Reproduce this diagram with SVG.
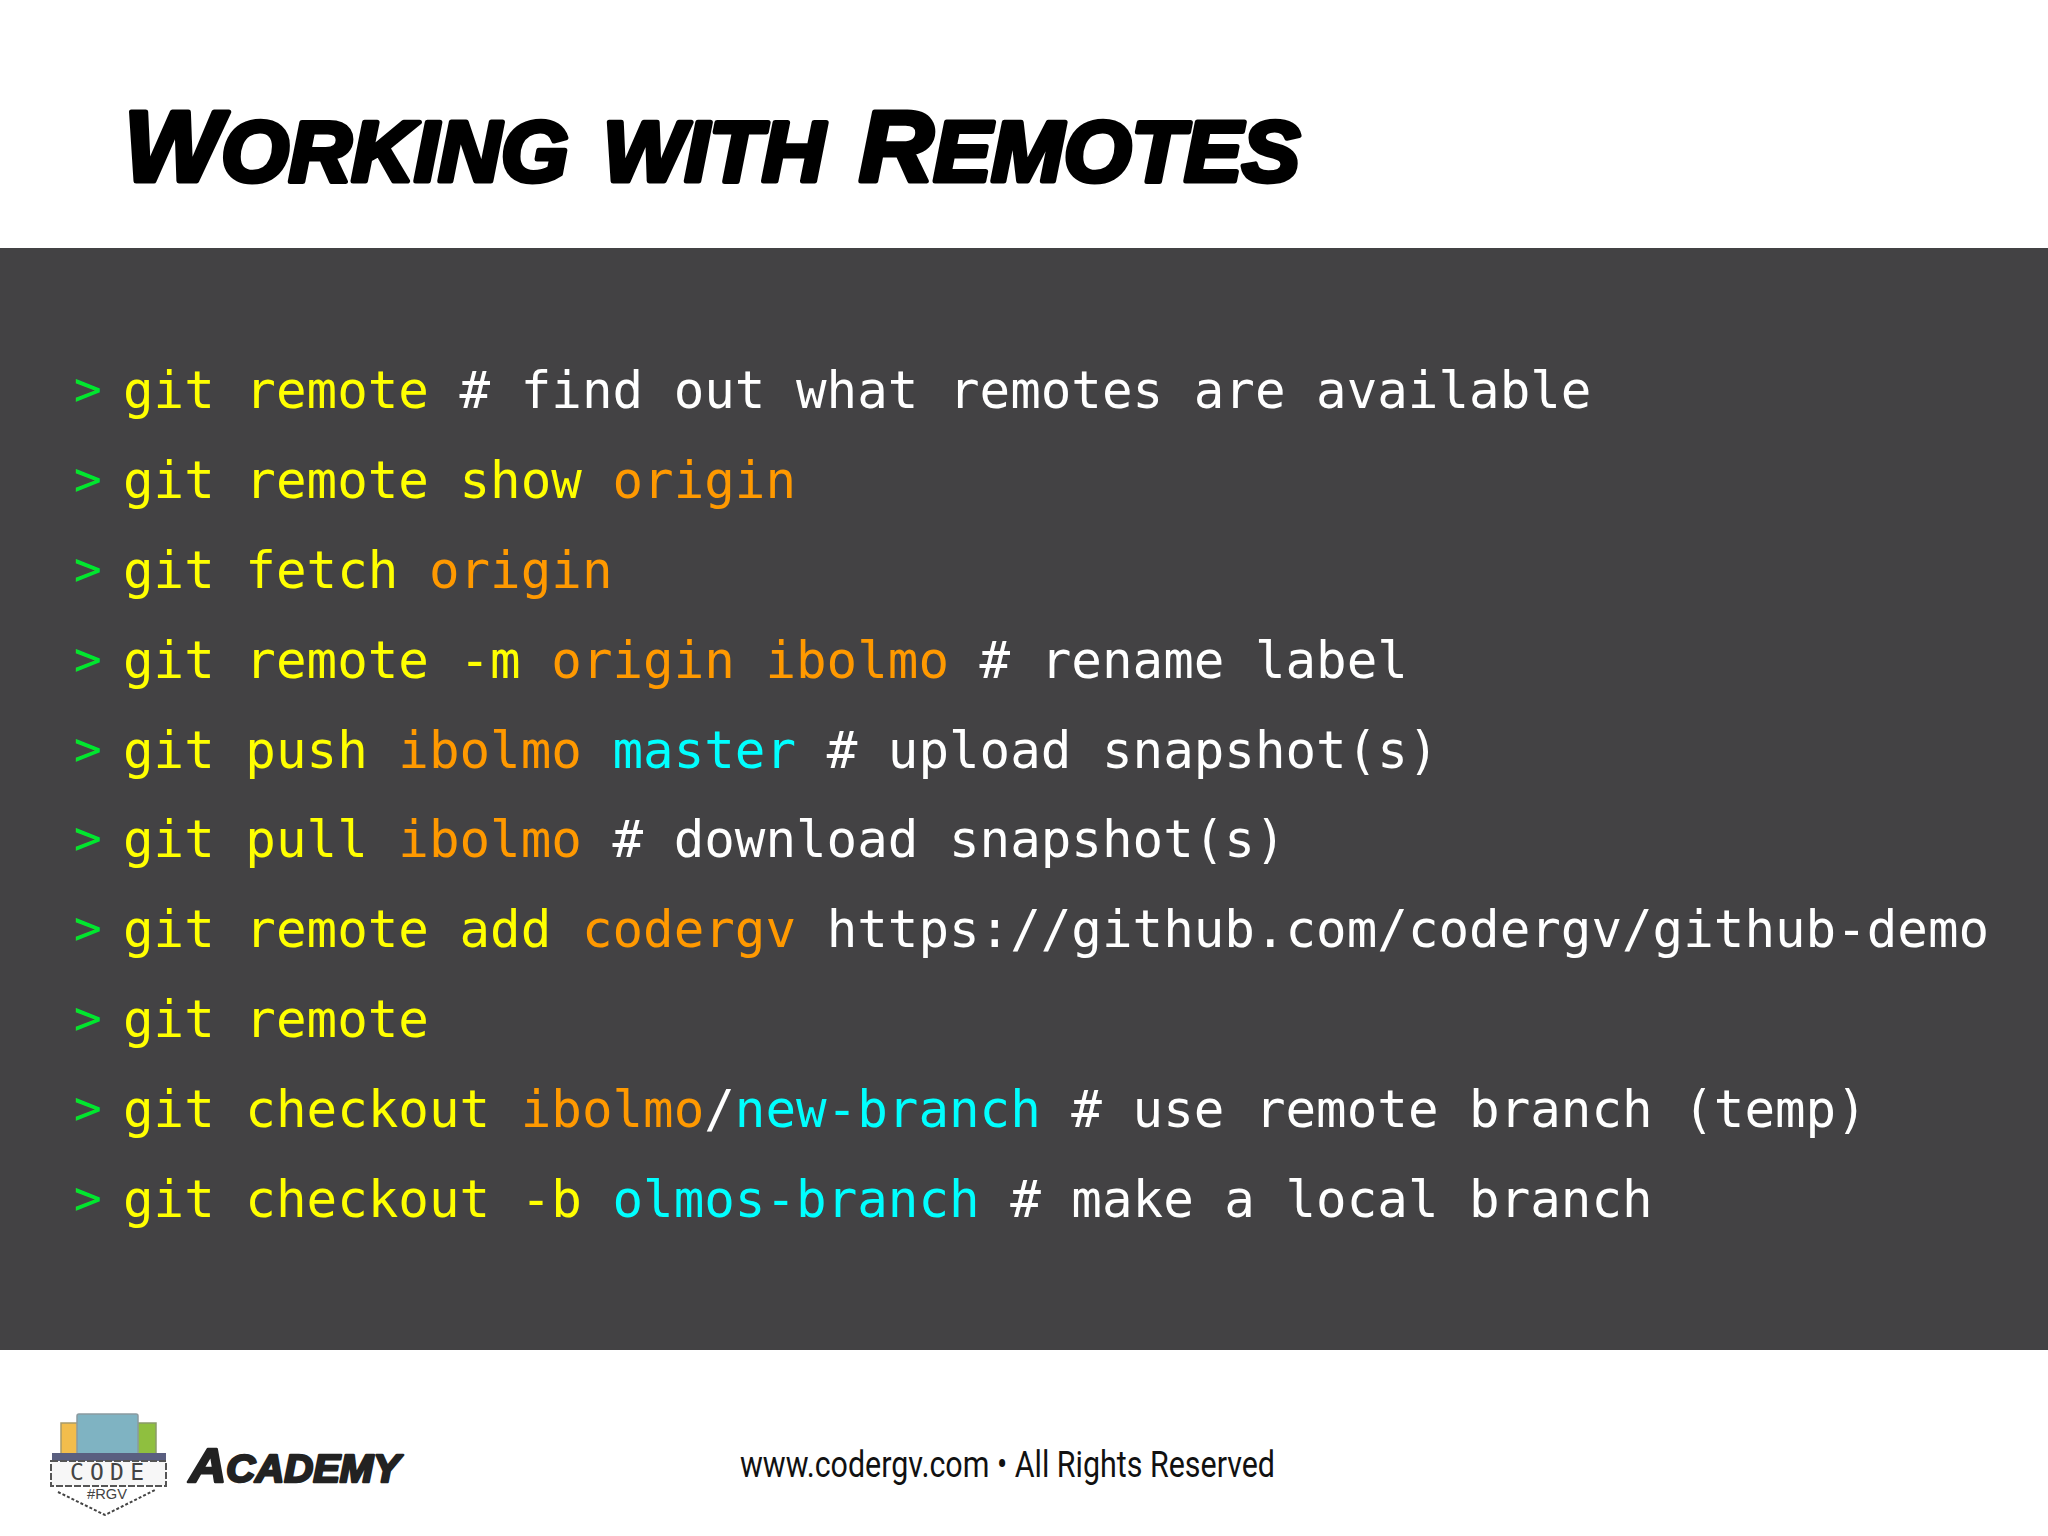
<svg xmlns="http://www.w3.org/2000/svg" width="2048" height="1536" viewBox="0 0 2048 1536">
<style>
.brush{font-family:"Liberation Sans",Arial,sans-serif;font-weight:700;font-style:italic;font-variant:small-caps;stroke-linejoin:round}
.tc{font-size:101px}.ts{font-size:121px}
.ac{font-size:49px}.as{font-size:54px}
.c{font-family:"DejaVu Sans Mono","Liberation Mono",monospace;font-size:50.82px;fill:#fff;white-space:pre}
.c.p{fill:#00e62e;font-size:46px}.y{fill:#ffff00}.o{fill:#ff9900}.b{fill:#00ffff}
</style>
<rect width="2048" height="1536" fill="#fff"/>
<text id="title" class="brush" x="124" y="181" fill="#000" stroke="#000" stroke-width="5" textLength="1176" lengthAdjust="spacingAndGlyphs"><tspan class="tc">W</tspan><tspan class="ts">orking with </tspan><tspan class="tc">R</tspan><tspan class="ts">emotes</tspan></text>
<rect id="panel" x="0" y="248" width="2048" height="1102" fill="#434244"/>
<g id="code">
<text class="c p" x="74" y="405">&gt;</text><text class="c" x="123" y="408" xml:space="preserve"><tspan class="y">git remote</tspan> # find out what remotes are available</text>
<text class="c p" x="74" y="495">&gt;</text><text class="c" x="123" y="498" xml:space="preserve"><tspan class="y">git remote show</tspan> <tspan class="o">origin</tspan></text>
<text class="c p" x="74" y="585">&gt;</text><text class="c" x="123" y="588" xml:space="preserve"><tspan class="y">git fetch</tspan> <tspan class="o">origin</tspan></text>
<text class="c p" x="74" y="675">&gt;</text><text class="c" x="123" y="678" xml:space="preserve"><tspan class="y">git remote -m</tspan> <tspan class="o">origin ibolmo</tspan> # rename label</text>
<text class="c p" x="74" y="765">&gt;</text><text class="c" x="123" y="768" xml:space="preserve"><tspan class="y">git push</tspan> <tspan class="o">ibolmo</tspan> <tspan class="b">master</tspan> # upload snapshot(s)</text>
<text class="c p" x="74" y="854">&gt;</text><text class="c" x="123" y="857" xml:space="preserve"><tspan class="y">git pull</tspan> <tspan class="o">ibolmo</tspan> # download snapshot(s)</text>
<text class="c p" x="74" y="944">&gt;</text><text class="c" x="123" y="947" xml:space="preserve"><tspan class="y">git remote add</tspan> <tspan class="o">codergv</tspan> https://github.com/codergv/github-demo</text>
<text class="c p" x="74" y="1034">&gt;</text><text class="c" x="123" y="1037" xml:space="preserve"><tspan class="y">git remote</tspan></text>
<text class="c p" x="74" y="1124">&gt;</text><text class="c" x="123" y="1127" xml:space="preserve"><tspan class="y">git checkout</tspan> <tspan class="o">ibolmo</tspan>/<tspan class="b">new-branch</tspan> # use remote branch (temp)</text>
<text class="c p" x="74" y="1214">&gt;</text><text class="c" x="123" y="1217" xml:space="preserve"><tspan class="y">git checkout -b</tspan> <tspan class="b">olmos-branch</tspan> # make a local branch</text>
</g>
<g id="logo">
<rect x="61" y="1423" width="18" height="36" fill="#f2bd4c" stroke="#a89a6a" stroke-width="1.5"/>
<rect x="136" y="1423" width="20" height="36" fill="#8fbf3f" stroke="#8a9a6a" stroke-width="1.5"/>
<rect x="77" y="1414" width="61" height="44" rx="2" fill="#7fb3c2" stroke="#8a9aa0" stroke-width="1.5"/>
<rect x="52" y="1453" width="114" height="8" fill="#5a5f80"/>
<rect x="51" y="1461" width="115" height="25" fill="#f7f7f7" stroke="#555" stroke-width="2" stroke-dasharray="7 2"/>
<path d="M58 1492L105 1515L155 1490" fill="none" stroke="#444" stroke-width="2" stroke-dasharray="3 2"/>
<text x="70" y="1480" font-family="'DejaVu Sans Mono',monospace" font-size="23" fill="#444" textLength="74" lengthAdjust="spacing">CODE</text>
<text x="87" y="1499" font-family="'Liberation Sans',Arial,sans-serif" font-size="14" fill="#444" textLength="40" lengthAdjust="spacingAndGlyphs">#RGV</text>
</g>
<text id="academy" class="brush" x="189" y="1482" fill="#222" stroke="#222" stroke-width="2.5" textLength="211" lengthAdjust="spacingAndGlyphs"><tspan class="ac">A</tspan><tspan class="as">cademy</tspan></text>
<text id="footer" x="740" y="1477" font-family="Roboto,'Liberation Sans',sans-serif" font-size="36" fill="#111" textLength="535" lengthAdjust="spacingAndGlyphs">www.codergv.com • All Rights Reserved</text>
</svg>
